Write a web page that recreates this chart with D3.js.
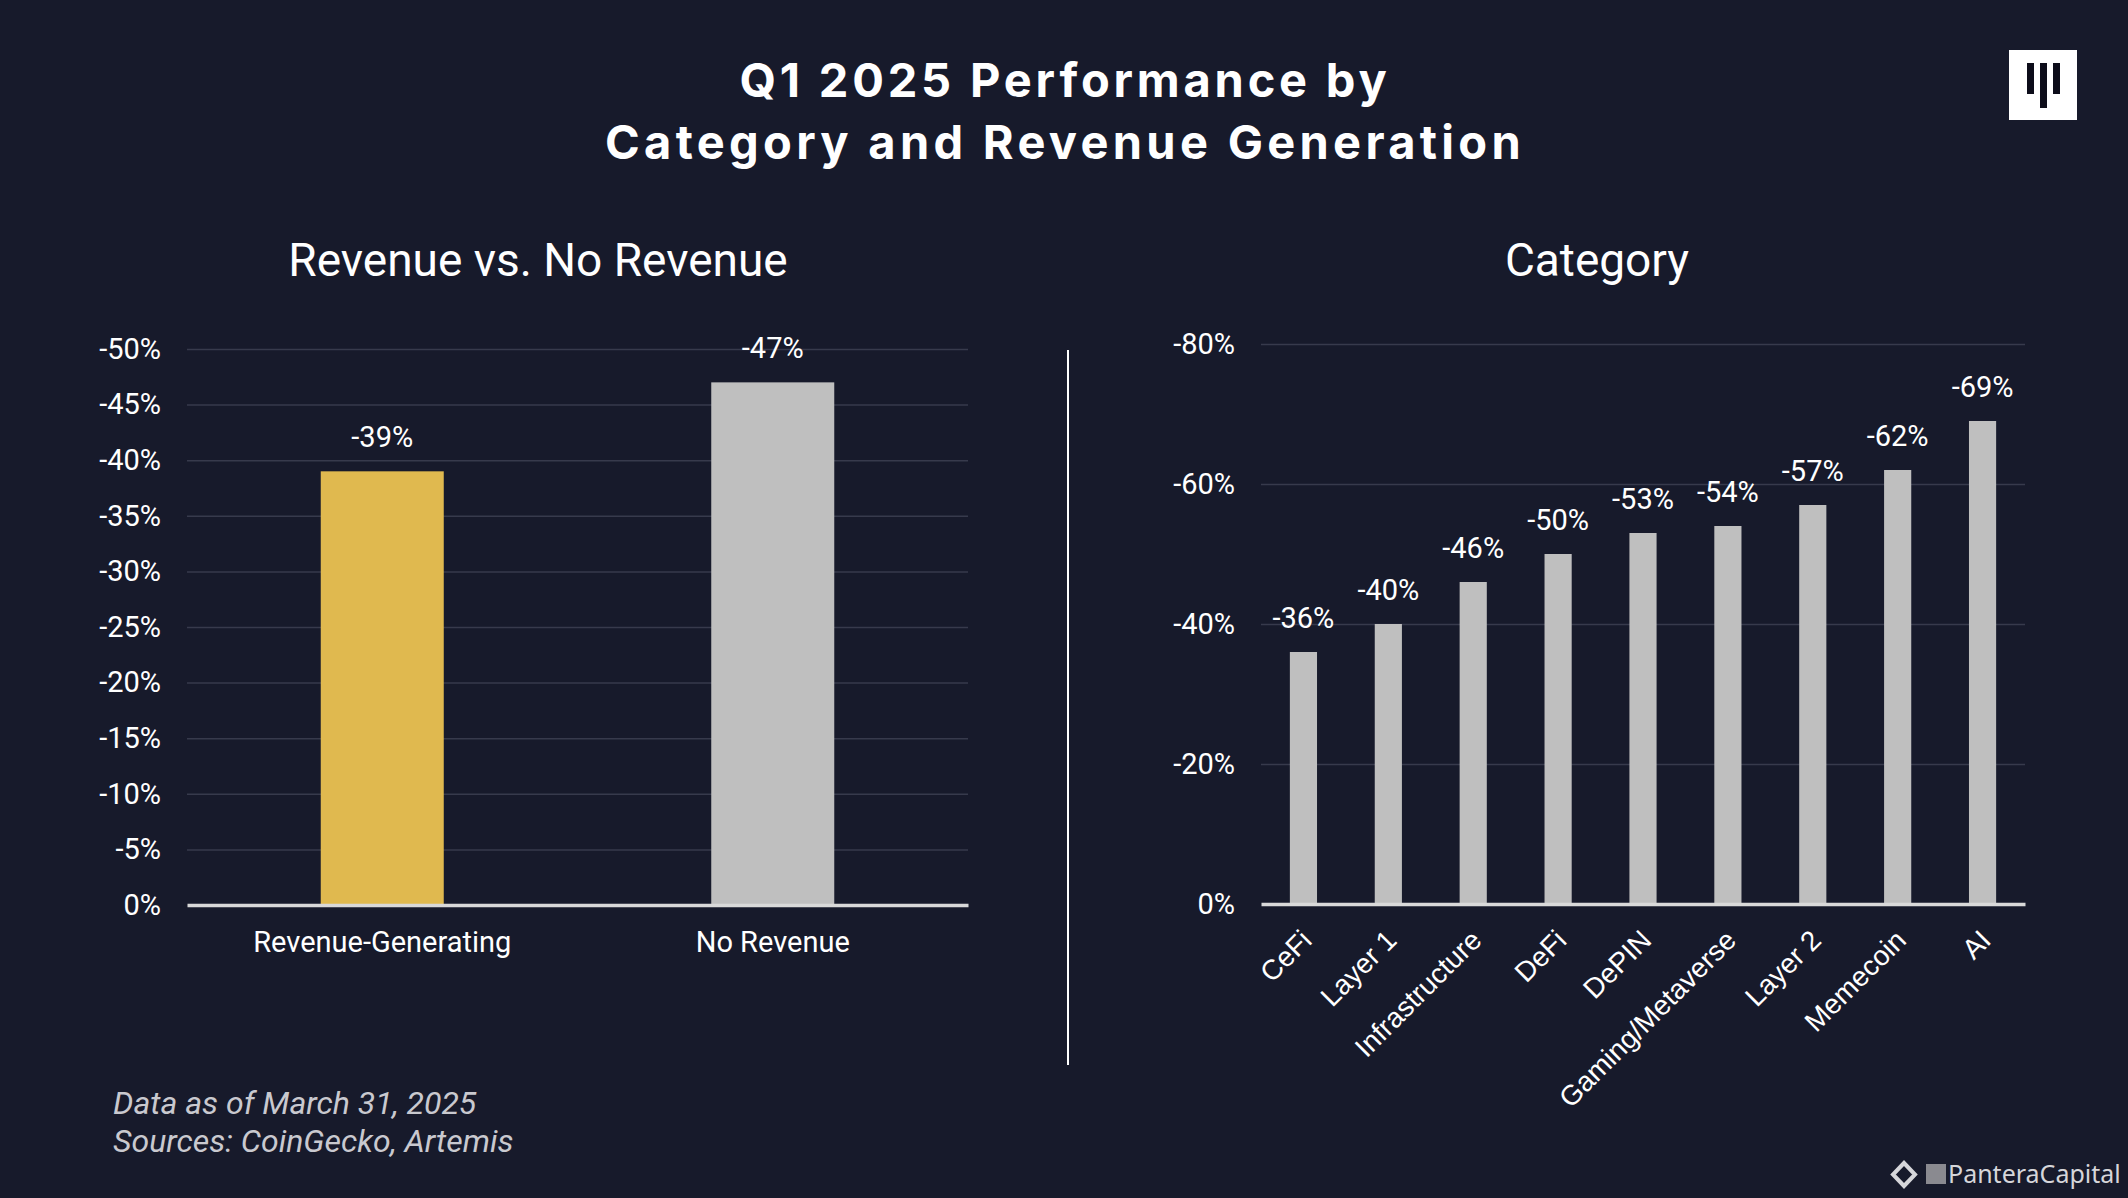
<!DOCTYPE html>
<html>
<head>
<meta charset="utf-8">
<script src="https://cdn.jsdelivr.net/npm/d3@7"></script>
<style>
  html, body { margin: 0; padding: 0; background: #171a2b; }
  svg { display: block; }
</style>
</head>
<body>
<svg id="chart" width="2128" height="1198"></svg>
<script>
// ---------- data ----------
const titleLines = ["Q1 2025 Performance by", "Category and Revenue Generation"];
const revTitle = "Revenue vs. No Revenue";
const revCategories = ["Revenue-Generating", "No Revenue"];
const revValues = [-39, -47];
const revTicks = [0, -5, -10, -15, -20, -25, -30, -35, -40, -45, -50];

const catTitle = "Category";
const catCategories = ["CeFi", "Layer 1", "Infrastructure", "DeFi", "DePIN", "Gaming/Metaverse", "Layer 2", "Memecoin", "AI"];
const catValues = [-36, -40, -46, -50, -53, -54, -57, -62, -69];
const catTicks = [0, -20, -40, -60, -80];

const footnotes = ["Data as of March 31, 2025", "Sources: CoinGecko, Artemis"];
const brand = "PanteraCapital";

// ---------- setup ----------
const W = 2128, H = 1198;
const BG = "#171a2b", GRID = "#373a4c", AXIS = "#d9d9d9", GRAY = "#bfbfbf", GOLD = "#e0b94f";
const svg = d3.select("#chart");
svg.append("rect").attr("width", W).attr("height", H).attr("fill", BG);

const pct = d => d + "%";

// ---------- title ----------
svg.append("g").selectAll("text").data(titleLines).join("text")
  .attr("x", 1065).attr("y", (d, i) => 97 + i * 62)
  .attr("text-anchor", "middle")
  .attr("fill", "#ffffff")
  .style("font-family", "Inter, 'Noto Sans', sans-serif")
  .style("font-weight", 700)
  .style("font-size", "47px")
  .style("letter-spacing", (d, i) => i === 0 ? "3.8px" : "4.3px")
  .text(d => d);

// ---------- logo ----------
const logo = svg.append("g");
logo.append("rect").attr("x", 2009).attr("y", 50).attr("width", 68).attr("height", 70).attr("fill", "#ffffff");
[[2027, 63, 31], [2040, 63, 45], [2053, 63, 31]].forEach(([x, y, h]) => {
  logo.append("rect").attr("x", x).attr("y", y).attr("width", 7).attr("height", h).attr("fill", "#0d0d1a");
});

// ---------- generic bar panel ----------
function panel(opts) {
  const g = svg.append("g");
  const x = d3.scaleBand().domain(opts.categories).range([opts.x0, opts.x1])
    .paddingInner(opts.pad).paddingOuter(opts.pad / 2);
  const y = d3.scaleLinear().domain([0, opts.ticks[opts.ticks.length - 1]]).range([opts.y0, opts.y1]);

  // subtitle
  g.append("text").attr("x", opts.titleX).attr("y", 276)
    .attr("text-anchor", "middle").attr("fill", "#ffffff")
    .style("font-family", "Roboto, sans-serif").style("font-size", "46px")
    .text(opts.title);

  // gridlines + y labels
  const yAxis = g.append("g").attr("transform", `translate(${opts.x0},0)`)
    .call(d3.axisLeft(y).tickValues(opts.ticks).tickFormat(pct)
      .tickSize(-(opts.x1 - opts.x0)).tickPadding(26));
  yAxis.select(".domain").remove();
  yAxis.selectAll(".tick line").attr("stroke", GRID).attr("stroke-width", 1.5);
  yAxis.selectAll(".tick text").attr("fill", "#ffffff")
    .style("font-family", "Roboto, sans-serif").style("font-size", "29px");
  yAxis.selectAll(".tick").filter(d => d === 0).select("line").remove();

  // bars
  g.append("g").selectAll("rect").data(opts.values).join("rect")
    .attr("x", (d, i) => x(opts.categories[i]))
    .attr("width", x.bandwidth())
    .attr("y", d => y(d))
    .attr("height", d => y(0) - y(d))
    .attr("fill", (d, i) => opts.color(i));

  // value labels
  g.append("g").selectAll("text").data(opts.values).join("text")
    .attr("x", (d, i) => x(opts.categories[i]) + x.bandwidth() / 2)
    .attr("y", d => y(d) - 24)
    .attr("text-anchor", "middle").attr("fill", "#ffffff")
    .style("font-family", "Roboto, sans-serif").style("font-size", "29px")
    .text(pct);

  // baseline axis
  const xAxis = g.append("g").attr("transform", `translate(0,${y(0)})`)
    .call(d3.axisBottom(x).tickSize(0));
  xAxis.select(".domain").attr("stroke", AXIS).attr("stroke-width", 3.5);
  opts.styleX(xAxis.selectAll(".tick text"));
  return g;
}

panel({
  categories: revCategories, values: revValues, ticks: revTicks,
  x0: 187, x1: 968, y0: 905, y1: 349, pad: 0.685,
  title: revTitle, titleX: 538,
  color: i => i === 0 ? GOLD : GRAY,
  styleX: t => t.attr("y", 47).attr("dy", 0).attr("fill", "#ffffff")
    .style("font-family", "Roboto, sans-serif").style("font-size", "29px")
});

panel({
  categories: catCategories, values: catValues, ticks: catTicks,
  x0: 1261, x1: 2025, y0: 904, y1: 344, pad: 0.68,
  title: catTitle, titleX: 1597,
  color: () => GRAY,
  styleX: t => t.attr("x", 0).attr("y", 0).attr("dy", 0)
    .attr("text-anchor", "end")
    .attr("transform", "translate(10,38) rotate(-45)")
    .attr("fill", "#ffffff")
    .style("font-family", "'Liberation Sans', Arial, sans-serif").style("font-size", "28px")
});

// divider
svg.append("line").attr("x1", 1068).attr("x2", 1068).attr("y1", 350).attr("y2", 1065)
  .attr("stroke", "#ffffff").attr("stroke-width", 2);

// footnotes
svg.append("g").selectAll("text").data(footnotes).join("text")
  .attr("x", 113).attr("y", (d, i) => 1114 + i * 38)
  .attr("fill", "#c9c9cf")
  .style("font-family", "Roboto, sans-serif").style("font-style", "italic")
  .style("font-size", "32px")
  .text(d => d);

// watermark
const wm = svg.append("g").attr("fill", "#d6d6da");
wm.append("path").attr("d", "M1904,1163 L1915,1174.5 L1904,1186 L1893,1174.5 Z")
  .attr("fill", "none").attr("stroke", "#d6d6da").attr("stroke-width", 4);
wm.append("rect").attr("x", 1926).attr("y", 1164).attr("width", 20).attr("height", 20).attr("fill", "#8a8a90");
wm.append("text").attr("x", 1948).attr("y", 1183)
  .style("font-family", "'Noto Sans', sans-serif").style("font-size", "25px")
  .text(brand);
</script>
</body>
</html>
